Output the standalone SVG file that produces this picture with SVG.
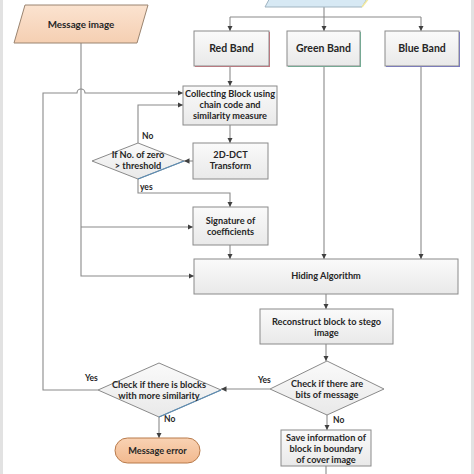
<svg xmlns="http://www.w3.org/2000/svg" width="474" height="474" viewBox="0 0 474 474">
<defs>
<linearGradient id="gbox" x1="0" y1="0" x2="0" y2="1"><stop offset="0" stop-color="#fafafa"/><stop offset="1" stop-color="#e9e9e9"/></linearGradient>
<linearGradient id="gpeach" x1="0" y1="0" x2="0" y2="1"><stop offset="0" stop-color="#fbe3d0"/><stop offset="1" stop-color="#f5cfb2"/></linearGradient>
<linearGradient id="gorange" x1="0" y1="0" x2="0" y2="1"><stop offset="0" stop-color="#f9d2b3"/><stop offset="1" stop-color="#f2b98f"/></linearGradient>
<marker id="ah" viewBox="0 0 10 10" refX="10" refY="5" markerWidth="5" markerHeight="5" orient="auto"><path d="M0,0 L10,5 L0,10 z" fill="#404040"/></marker>
</defs>
<style>
.box{fill:url(#gbox);stroke:#8a8a8a;stroke-width:1}
.t{font-family:Lato,"Liberation Sans",sans-serif;font-weight:bold;fill:#262626;text-anchor:middle}
.s{font-size:9.2px}
.b{font-size:10.5px}
.c{fill:none;stroke:#8a8a8a;stroke-width:1.1}
.a{marker-end:url(#ah)}
.lbl{font-family:Lato,"Liberation Sans",sans-serif;font-weight:bold;font-size:8.5px;fill:#262626}
</style>
<rect width="474" height="474" fill="#ffffff"/>
<rect x="0" y="0" width="3" height="474" fill="#e2e2e2"/>
<rect x="471" y="0" width="3" height="474" fill="#e2e2e2"/>

<g id="connectors">
<path class="c" d="M324,7 L324,17"/>
<path class="c" d="M230,17 L421,17"/>
<path class="c a" d="M230,17 L230,31"/>
<path class="c a" d="M324,17 L324,31"/>
<path class="c a" d="M421,17 L421,31"/>
<path class="c a" d="M230,66 L230,86"/>
<path class="c a" d="M230,125 L230,143"/>
<path class="c a" d="M193,161 L184,161"/>
<path class="c a" d="M138,143 L138,105 L183,105"/>
<path class="c a" d="M138,179 L138,193 L230,193 L230,207"/>
<path class="c a" d="M81,43 L81,276 L194,276"/>
<path class="c a" d="M81,227 L193,227"/>
<path class="c a" d="M230,245 L230,259"/>
<path class="c a" d="M324,66 L324,259"/>
<path class="c a" d="M421,66 L421,259"/>
<path class="c a" d="M326,294 L326,309"/>
<path class="c a" d="M326,344 L326,361"/>
<path class="c a" d="M270,389 L221,389"/>
<path class="c a" d="M327,415 L327,430"/>
<path class="c" d="M326,466 L326,474"/>
<path class="c a" d="M98,390 L43,390 L43,93 L77,93 A4,4 0 0 1 85,93 L183,93"/>
<path class="c a" d="M159,417 L159,438"/>
</g>

<g id="labels">
<text class="lbl" x="142" y="139">No</text>
<text class="lbl" x="140" y="190">yes</text>
<text class="lbl" x="258" y="383">Yes</text>
<text class="lbl" x="333" y="423">No</text>
<text class="lbl" x="85" y="381">Yes</text>
<text class="lbl" x="164" y="422">No</text>
</g>

<g id="cover-image">
<path d="M272,-6 L370,-6 L362,7 L265,7 Z" fill="#d7e9f4" stroke="#9fb3c0" stroke-width="1"/>
<path d="M362,7 L369,-2" fill="none" stroke="#f2eaa0" stroke-width="1.5"/>
</g>

<g id="message-image">
<path d="M25,5 L148,5 L137,43 L14,43 Z" fill="url(#gpeach)" stroke="#9a8470" stroke-width="1"/>
<text class="t" x="81" y="28" font-size="9.8px">Message image</text>
</g>

<g id="red-band">
<rect x="195" y="32" width="75" height="35" fill="#e46a78"/>
<rect class="box" x="194" y="31" width="75" height="35"/>
<text class="t b" x="231.5" y="52">Red Band</text>
</g>
<g id="green-band">
<rect x="288" y="32" width="73" height="35" fill="#62c69c"/>
<rect class="box" x="287" y="31" width="73" height="35"/>
<text class="t b" x="323.5" y="52">Green Band</text>
</g>
<g id="blue-band">
<rect x="386" y="32" width="74" height="35" fill="#6f6fe6"/>
<rect class="box" x="385" y="31" width="74" height="35"/>
<text class="t b" x="422" y="52">Blue Band</text>
</g>

<g id="collecting-block">
<rect class="box" x="183" y="86" width="94" height="39"/>
<text class="t s" x="230" y="97">Collecting Block using</text>
<text class="t s" x="230" y="108">chain code and</text>
<text class="t s" x="230" y="119">similarity measure</text>
</g>

<g id="dct">
<rect class="box" x="193" y="143" width="75" height="36"/>
<text class="t s" x="230.5" y="158">2D-DCT</text>
<text class="t s" x="230.5" y="169">Transform</text>
</g>

<g id="threshold">
<path d="M138,143 L184,161 L138,179 L92,161 Z" fill="url(#gbox)" stroke="#8a8a8a" stroke-width="1"/>
<path d="M138,179 L184,161" fill="none" stroke="#5b8db5" stroke-width="1.3"/>
<text class="t s" x="138" y="158">If No. of zero</text>
<text class="t s" x="138" y="169">&gt; threshold</text>
</g>

<g id="signature">
<rect class="box" x="193" y="207" width="75" height="38"/>
<text class="t s" x="230.5" y="224">Signature of</text>
<text class="t s" x="230.5" y="235">coefficients</text>
</g>

<g id="hiding">
<rect class="box" x="194" y="259" width="264" height="35"/>
<text class="t s" x="326" y="279">Hiding Algorithm</text>
</g>

<g id="reconstruct">
<rect class="box" x="260" y="309" width="133" height="35"/>
<text class="t s" x="326.5" y="325">Reconstruct block to stego</text>
<text class="t s" x="326.5" y="336">image</text>
</g>

<g id="bits-check">
<path d="M327,361 L384,389 L327,415 L270,389 Z" fill="url(#gbox)" stroke="#8a8a8a" stroke-width="1"/>
<text class="t s" x="327" y="387">Check if there are</text>
<text class="t s" x="327" y="398">bits of message</text>
</g>

<g id="save-info">
<rect class="box" x="281" y="430" width="90" height="36"/>
<text class="t s" x="326" y="441">Save information of</text>
<text class="t s" x="326" y="452">block in boundary</text>
<text class="t s" x="326" y="463">of cover image</text>
</g>

<g id="similarity-check">
<path d="M159,363 L221,390 L159,417 L98,390 Z" fill="url(#gbox)" stroke="#8a8a8a" stroke-width="1"/>
<path d="M159,417 L221,390" fill="none" stroke="#5b8db5" stroke-width="1.3"/>
<text class="t s" x="159" y="388">Check if there is blocks</text>
<text class="t s" x="159" y="399">with more similarity</text>
</g>

<g id="message-error">
<rect x="115" y="438" width="85" height="25" rx="12.5" fill="url(#gorange)" stroke="#b87a4a" stroke-width="1"/>
<text class="t s" x="157.5" y="454">Message error</text>
</g>
</svg>
